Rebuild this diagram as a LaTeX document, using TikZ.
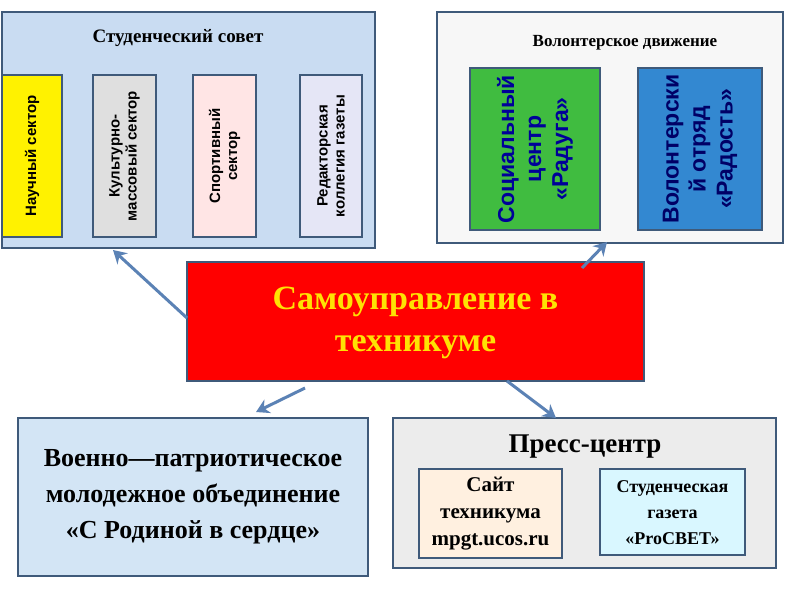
\documentclass[tikz,border=0pt]{standalone}
\usepackage{fontspec}
\setmainfont{Liberation Serif}
\newfontfamily\sans{Liberation Sans}
\usetikzlibrary{arrows.meta}
\definecolor{bord}{HTML}{3F5A7A}
\definecolor{arr}{HTML}{5B82B5}
\definecolor{ssfill}{HTML}{C9DCF2}
\definecolor{mlfill}{HTML}{D3E5F5}
\tikzset{
 panel/.style={draw=bord,line width=1.4pt},
 sect/.style={draw=bord,line width=1.4pt},
 vtext/.style={rotate=90,font=\sans\bfseries\fontsize{15}{17}\selectfont,align=center},
 link/.style={draw=arr,line width=3pt,-{Stealth[length=13pt,width=15pt]}}
}
\begin{document}
\begin{tikzpicture}[x=1pt,y=-1pt]
\useasboundingbox (0,0) rectangle (800,600);
\fill[white] (0,0) rectangle (800,600);
% Student council
\draw[panel,fill=ssfill] (2,12) rectangle (375,248);
\node[font=\bfseries\fontsize{19}{21}\selectfont] (sstitle) at (178,38) {Студенческий совет};
\draw[sect,fill=yellow] (2,75) rectangle (62,237);
\node[vtext] (s1) at (32,156) {Научный сектор};
\draw[sect,fill=gray!25] (93,75) rectangle (156,237);
\node[vtext] (s2) at (124.5,156) {Культурно-\\массовый сектор};
\draw[sect,fill=red!10] (193,75) rectangle (256,237);
\node[vtext] (s3) at (224.5,156) {Спортивный\\сектор};
\draw[sect,fill=cyan!30!blue!10] (300,75) rectangle (362,237);
\node[vtext] (s4) at (331,156) {Редакторская\\коллегия газеты};
% Volunteer
\draw[panel,fill=gray!6] (437,12) rectangle (783,243);
\node[font=\bfseries\fontsize{17}{19}\selectfont] (vtitle) at (625,43) {Волонтерское движение};
\draw[sect,fill=green!65!black!75] (470,68) rectangle (600,230);
\node[vtext,font=\sans\bfseries\fontsize{23}{27}\selectfont,text=blue!60!black] (v1) at (535,149) {Социальный\\центр\\«Радуга»};
\draw[sect,fill=cyan!60!blue!85] (638,68) rectangle (762,230);
\node[vtext,font=\sans\bfseries\fontsize{23}{27}\selectfont,text=blue!40!black] (v2) at (700,149) {Волонтерски\\й отряд\\«Радость»};
% Central
\draw[panel,fill=red] (187,262) rectangle (644,381);
\node[font=\bfseries\fontsize{34}{42}\selectfont,text=yellow!85!orange,align=center] (main) at (415.5,323) {Самоуправление в\\техникуме};
% Bottom left
\draw[panel,fill=mlfill] (18,418) rectangle (368,576);
\node[font=\bfseries\fontsize{26}{36}\selectfont,align=center] (mil) at (193,497) {Военно—патриотическое\\молодежное объединение\\«С Родиной в сердце»};
% Press
\draw[panel,fill=gray!15] (393,418) rectangle (776,568);
\node[font=\bfseries\fontsize{27}{29}\selectfont] (ptitle) at (585,447) {Пресс-центр};
\draw[sect,fill=orange!12] (419,469) rectangle (562,558);
\node[font=\bfseries\fontsize{21}{27}\selectfont,align=center] (p1) at (490.5,514) {Сайт\\техникума\\mpgt.ucos.ru};
\draw[sect,fill=blue!20!cyan!15] (600,469) rectangle (745,555);
\node[font=\bfseries\fontsize{18}{26}\selectfont,align=center] (p2) at (672.5,513) {Студенческая\\газета\\«ProСВЕТ»};
% arrows
\coordinate (a1s) at (187,318); \coordinate (a1e) at (113,250);
\coordinate (a2s) at (582,268); \coordinate (a2e) at (607,242);
\coordinate (a3s) at (305,388); \coordinate (a3e) at (256,412);
\coordinate (a4s) at (507,381); \coordinate (a4e) at (556,418);
\draw[link] (a1s) -- (a1e);
\draw[link] (a2s) -- (a2e);
\draw[link] (a3s) -- (a3e);
\draw[link] (a4s) -- (a4e);
\end{tikzpicture}
\end{document}
